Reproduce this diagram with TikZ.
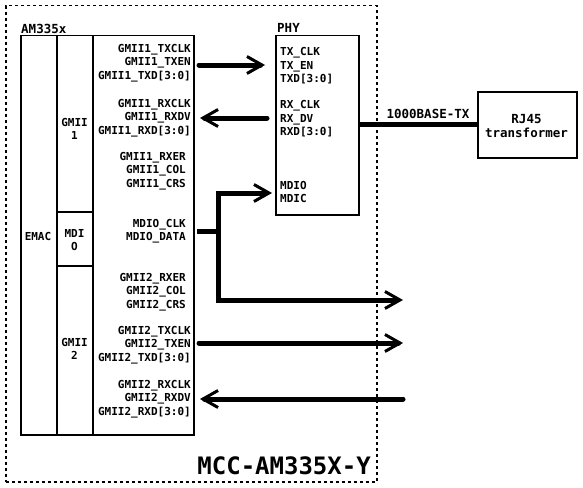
\documentclass[tikz,border=0pt]{standalone}
\usepackage{fontspec}
\setmonofont{DejaVu Sans Mono}
\usetikzlibrary{arrows.meta}
\tikzset{
  box/.style={draw, line width=1.5pt, inner sep=0pt, anchor=north west},
  sig/.style={font=\ttfamily\bfseries\fontsize{11}{13.5}\selectfont, inner sep=0pt},
  big/.style={font=\ttfamily\bfseries\fontsize{12.5}{14}\selectfont, inner sep=0pt},
  frame/.style={draw, line width=1.5pt, dash pattern=on 3pt off 3pt},
  bus/.style={line width=5pt, line cap=round,
    -{Straight Barb[length=15pt,width=17pt,line width=3pt]}},
  wire/.style={line width=5pt},
}
\begin{document}
\begin{tikzpicture}[x=1pt,y=-1pt]
\useasboundingbox (0,0) rectangle (583,487);
% outer dashed frame
\node[frame, box, minimum width=371pt, minimum height=476pt] (board) at (5,5) {};
\node[font=\ttfamily\bfseries\fontsize{24}{26}\selectfont, inner sep=0pt, anchor=east] (bname) at (371,466) {MCC-AM335X-Y};
% AM335x block
\node[big, anchor=south west] (lam) at (21,34) {AM335x};
\node[box, minimum width=173pt, minimum height=399pt] (am) at (20,35) {};
\node[box, minimum width=36pt, minimum height=399pt] (emac) at (20,35) {};
\node[box, minimum width=36pt, minimum height=176pt] (g1) at (56,35) {};
\node[box, minimum width=36pt, minimum height=54pt] (md) at (56,211) {};
\node[box, minimum width=36pt, minimum height=169pt] (g2) at (56,265) {};
\node[sig] (temac) at (38,236) {EMAC};
\node[sig, align=center] (tg1) at (74.5,129) {GMII\\1};
\node[sig, align=center] (tmd) at (74.5,240) {MDI\\O};
\node[sig, align=center] (tg2) at (74.5,349) {GMII\\2};
% signal labels
\node[sig, align=right, anchor=east] (s1) at (191,63) {GMII1\_TXCLK\\GMII1\_TXEN\\GMII1\_TXD[3:0]};
\node[sig, align=right, anchor=east] (s2) at (191,118) {GMII1\_RXCLK\\GMII1\_RXDV\\GMII1\_RXD[3:0]};
\node[sig, align=right, anchor=east] (s3) at (186,171) {GMII1\_RXER\\GMII1\_COL\\GMII1\_CRS};
\node[sig, align=right, anchor=east] (s4) at (186,231) {MDIO\_CLK\\MDIO\_DATA};
\node[sig, align=right, anchor=east] (s5) at (186,292) {GMII2\_RXER\\GMII2\_COL\\GMII2\_CRS};
\node[sig, align=right, anchor=east] (s6) at (191,345) {GMII2\_TXCLK\\GMII2\_TXEN\\GMII2\_TXD[3:0]};
\node[sig, align=right, anchor=east] (s7) at (191,399) {GMII2\_RXCLK\\GMII2\_RXDV\\GMII2\_RXD[3:0]};
% PHY
\node[big, anchor=south west] (lphy) at (277,33) {PHY};
\node[box, minimum width=83pt, minimum height=179pt] (phy) at (275,35) {};
\node[sig, align=left, anchor=west] (p1) at (280,66) {TX\_CLK\\TX\_EN\\TXD[3:0]};
\node[sig, align=left, anchor=west] (p2) at (280,119) {RX\_CLK\\RX\_DV\\RXD[3:0]};
\node[sig, align=left, anchor=west] (p3) at (280,192) {MDIO\\MDIC};
% RJ45
\node[box, minimum width=99pt, minimum height=66pt] (rj) at (477,91) {};
\node[big, align=center] (trj) at (526.5,126) {RJ45\\transformer};
\node[big] (tbase) at (428,114) {1000BASE-TX};
% connector endpoints
\coordinate (tx1s) at (199,65);
\coordinate (tx1e) at (265,65);
\coordinate (rx1s) at (267,118);
\coordinate (rx1e) at (200,118);
\coordinate (mds) at (197,231);
\coordinate (jtop) at (218,193);
\coordinate (jbot) at (218,300);
\coordinate (mdp) at (272,193);
\coordinate (mdo) at (403,300);
\coordinate (tx2s) at (199,343);
\coordinate (tx2e) at (403,343);
\coordinate (rx2s) at (403,399);
\coordinate (rx2e) at (200,399);
% connectors
\draw[bus] (tx1s) -- (tx1e);
\draw[bus] (rx1s) -- (rx1e);
\draw[wire] (mds) -- (mds -| jtop);
\draw[wire, line cap=rect] (jtop) -- (jbot);
\draw[bus, line cap=butt] (jtop) -- (mdp);
\draw[bus, line cap=butt] (jbot) -- (mdo);
\draw[bus] (tx2s) -- (tx2e);
\draw[bus] (rx2s) -- (rx2e);
\draw[line width=5pt] (rj.west -| phy.east) -- (rj.west);
\end{tikzpicture}
\end{document}
